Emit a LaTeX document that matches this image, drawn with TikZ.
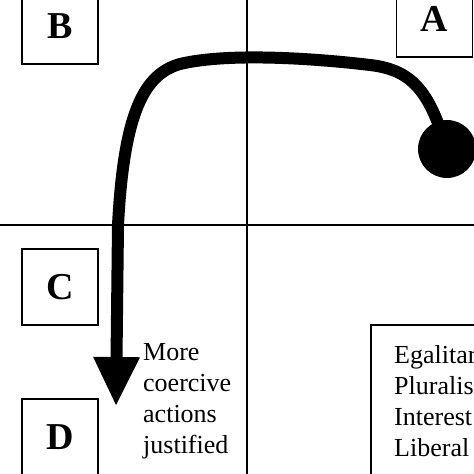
\documentclass[tikz,border=0pt]{standalone}
\usepackage{fontspec}
\setmainfont{Liberation Serif}
\usetikzlibrary{arrows.meta,positioning}

\begin{document}
\begin{tikzpicture}[
  x=1pt, y=-1pt,
  letterbox/.style={draw, line width=1.5pt, minimum size=76pt, inner sep=0pt, font=\fontsize{38}{38}\selectfont\bfseries},
  notes/.style={align=left, inner sep=0pt, font=\fontsize{26}{31}\selectfont},
  divider/.style={line width=1.5pt},
  path arrow/.style={line width=12pt, -{Triangle[length=48pt, width=47pt, line width=0pt]}}
]
\useasboundingbox (0,0) rectangle (474,474);
\clip (0,0) rectangle (474,474);
% quadrant lines
\draw[divider] (247,-5) -- (247,480);
\draw[divider] (-5,225) -- (480,225);
% quadrant labels
\node[letterbox] (B) at (60,26) {B};
\node[letterbox] (A) at (434.5,19) {A};
\node[letterbox] (C) at (60,287) {C};
\node[letterbox] (D) at (60,437) {D};
% list box, cut by the edge
\draw[line width=1.5pt] (371,325) rectangle (520,520);
\node[notes, anchor=base west] (list) at (394,456) {Egalitar\\Pluralis\\Interest\\Liberal};
\node[notes, anchor=base west] (more) at (143,453) {More\\coercive\\actions\\justified};
% the move from A to D
\node[circle, fill, minimum size=58pt, inner sep=0pt] (dot) at (447,149) {};
\coordinate (tipend) at (116,405);
\draw[path arrow] (dot.center) .. controls (430,95) and (415,70) .. (370,65)
  .. controls (320,59) and (230,52) .. (180,64)
  .. controls (145,74) and (124,110) .. (118,225) -- (tipend);
\end{tikzpicture}
\end{document}
